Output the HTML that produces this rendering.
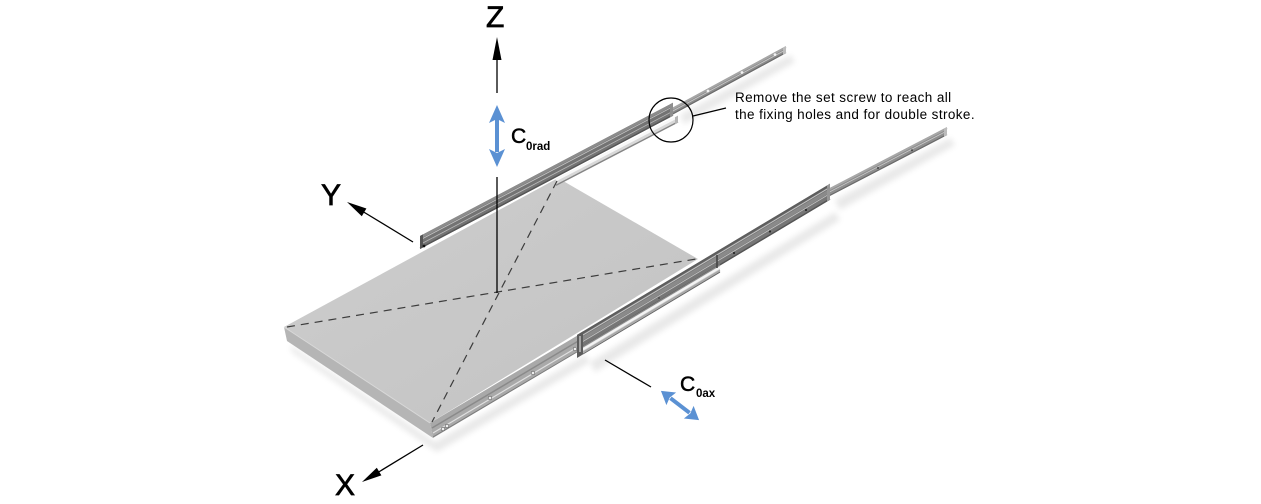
<!DOCTYPE html>
<html>
<head>
<meta charset="utf-8">
<style>
  html,body{margin:0;padding:0;background:#fff;}
  svg{display:block;}
  text{font-family:"Liberation Sans",sans-serif;fill:#000;}
</style>
</head>
<body>
<svg width="1261" height="504" viewBox="0 0 1261 504" xmlns="http://www.w3.org/2000/svg">
  <defs>
    <linearGradient id="plateTop" x1="0" y1="0" x2="1" y2="1">
      <stop offset="0" stop-color="#cdcdcd"/>
      <stop offset="1" stop-color="#c3c3c3"/>
    </linearGradient>
    <filter id="blur" x="-20%" y="-50%" width="140%" height="200%">
      <feGaussianBlur stdDeviation="3"/>
    </filter>
  </defs>

  <!-- soft shadows -->
  <g opacity="0.16" filter="url(#blur)">
    <polygon points="835,200 950,138 955,145 840,210" fill="#777"/>
    <polygon points="590,362 835,212 840,220 595,372" fill="#777"/>
    <polygon points="680,115 790,55 795,62 684,124" fill="#777"/>
    <polygon points="290,345 435,442 585,355 590,362 437,452 292,352" fill="#777"/>
  </g>

  <!-- PLATE side faces -->
  <polygon points="284,327 430,423 433,438 287,341" fill="#b5b5b5"/>
  <polygon points="430,423 580,334 582,349 433,438" fill="#a9a9a9"/>
  <line x1="432" y1="428" x2="580" y2="340" stroke="#8a8a8a" stroke-width="1.5"/>
  <line x1="433" y1="433" x2="581" y2="345" stroke="#e0e0e0" stroke-width="1.2"/>
  <line x1="433" y1="437" x2="582" y2="349" stroke="#7c7c7c" stroke-width="1"/>
  <circle cx="443" cy="429" r="1.8" fill="#eee" stroke="#555" stroke-width="0.6"/>
  <circle cx="447" cy="426" r="1.8" fill="#eee" stroke="#555" stroke-width="0.6"/>
  <circle cx="490" cy="398" r="1.8" fill="#eee" stroke="#555" stroke-width="0.6"/>
  <circle cx="533" cy="373" r="1.8" fill="#eee" stroke="#555" stroke-width="0.6"/>
  <circle cx="575" cy="349" r="1.8" fill="#eee" stroke="#555" stroke-width="0.6"/>

  <!-- PLATE top -->
  <polygon points="284,327 558,178 698,259 430,423" fill="url(#plateTop)"/>
  <line x1="284" y1="327" x2="430" y2="423" stroke="#d8d8d8" stroke-width="1"/>

  <!-- UPPER thin rail: y = 121 - 0.543(x-648) -->
  <polygon points="648,121 786,46.1 786,53.1 648,128" fill="#8c8c8c"/>
  <line x1="648" y1="122" x2="786" y2="47.1" stroke="#a6a6a6" stroke-width="2"/>
  <line x1="648" y1="124.5" x2="786" y2="49.6" stroke="#cccccc" stroke-width="0.8"/>
  <line x1="648" y1="127.4" x2="786" y2="52.5" stroke="#6c6c6c" stroke-width="1.2"/>
  <polygon points="783,47.7 786,46.1 786,53.1 783,54.7" fill="#bcbcbc"/>
  <circle cx="708" cy="91" r="1.4" fill="#f2f2f2"/>
  <circle cx="742" cy="72.5" r="1.4" fill="#f2f2f2"/>
  <circle cx="775" cy="54.6" r="1.4" fill="#f2f2f2"/>

  <!-- UPPER slider: y = 179 - 0.52(x-556) -->
  <polygon points="556,179 678,115.6 678,122.6 556,186" fill="#d8d8d8"/>
  <line x1="556" y1="180.2" x2="678" y2="116.8" stroke="#f8f8f8" stroke-width="2.2"/>
  <line x1="556" y1="185.3" x2="678" y2="121.9" stroke="#858585" stroke-width="1.4"/>
  <polygon points="675,117.2 678,115.6 678,122.6 675,124.2" fill="#b5b5b5"/>

  <!-- UPPER thick rail: y = 236 - 0.527(x-420) -->
  <polygon points="420,236 673,102.7 673,115.7 420,249" fill="#737373"/>
  <polygon points="420,236 673,102.7 673,105.7 420,239" fill="#8c8c8c"/>
  <line x1="420" y1="240" x2="673" y2="106.7" stroke="#c4c4c4" stroke-width="0.8"/>
  <line x1="420" y1="244.5" x2="673" y2="111.2" stroke="#b8b8b8" stroke-width="0.8"/>
  <line x1="420" y1="248.3" x2="673" y2="115" stroke="#555" stroke-width="1.4"/>
  <polygon points="420,236 423,234.4 423,247.4 420,249" fill="#555"/>
  <circle cx="424" cy="246" r="1.4" fill="#111"/>
  <polygon points="670,104.3 673,102.7 673,115.7 670,117.3" fill="#8e8e8e"/>

  <!-- LOWER thin extension: y = 190 - 0.52(x-826) -->
  <polygon points="826,190 947,127.1 947,135.1 826,198" fill="#8e8e8e"/>
  <line x1="826" y1="191" x2="947" y2="128.1" stroke="#a8a8a8" stroke-width="2"/>
  <line x1="826" y1="193.8" x2="947" y2="130.9" stroke="#cacaca" stroke-width="0.8"/>
  <line x1="826" y1="197.4" x2="947" y2="134.5" stroke="#6a6a6a" stroke-width="1.2"/>
  <polygon points="944,128.7 947,127.1 947,135.1 944,136.7" fill="#bcbcbc"/>
  <circle cx="878" cy="168" r="1" fill="#444"/>
  <circle cx="912" cy="150.3" r="1" fill="#444"/>

  <!-- LOWER thick rail: y = 335 - 0.598(x-577) -->
  <polygon points="577,335 830,183.7 830,199.7 577,351" fill="#767676"/>
  <polygon points="577,335 830,183.7 830,186.2 577,337.5" fill="#5e5e5e"/>
  <line x1="577" y1="338.6" x2="830" y2="187.3" stroke="#c8c8c8" stroke-width="0.9"/>
  <polygon points="577,340 830,188.7 830,192.7 577,344" fill="#8a8a8a"/>
  <line x1="577" y1="345" x2="830" y2="193.7" stroke="#c4c4c4" stroke-width="0.8"/>
  <line x1="577" y1="350.3" x2="830" y2="199" stroke="#555" stroke-width="1.4"/>
  <!-- chrome rod -->
  <polygon points="583,346.4 720,264.5 720,272.5 583,354.4" fill="#d0d0d0"/>
  <line x1="583" y1="347" x2="720" y2="265.1" stroke="#858585" stroke-width="1"/>
  <line x1="583" y1="349.3" x2="720" y2="267.4" stroke="#f4f4f4" stroke-width="2.2"/>
  <line x1="583" y1="352.3" x2="720" y2="270.4" stroke="#a8a8a8" stroke-width="1.6"/>
  <line x1="583" y1="354" x2="720" y2="272.1" stroke="#666" stroke-width="1"/>
  <!-- ends / details -->
  <polygon points="577,335 583,331.4 583,354.4 577,358" fill="#5c5c5c"/>
  <line x1="580" y1="336" x2="580" y2="352" stroke="#bdbdbd" stroke-width="1.5"/>
  <line x1="717" y1="268" x2="717" y2="255" stroke="#444" stroke-width="1.6"/>
  <polygon points="827,185.5 830,183.7 830,199.7 827,201.5" fill="#969696"/>
  <circle cx="734" cy="253" r="1.1" fill="#2a2a2a"/>
  <circle cx="770" cy="231.5" r="1.1" fill="#2a2a2a"/>
  <circle cx="806" cy="210" r="1.1" fill="#2a2a2a"/>
  <circle cx="659" cy="298" r="1.1" fill="#555"/>

  <!-- dashed diagonals -->
  <line x1="287" y1="327" x2="696" y2="259" stroke="#3c3c3c" stroke-width="1.2" stroke-dasharray="8 6"/>
  <line x1="557" y1="181" x2="432" y2="422" stroke="#3c3c3c" stroke-width="1.2" stroke-dasharray="8 6"/>

  <!-- Z axis -->
  <line x1="497" y1="58" x2="497" y2="93" stroke="#000" stroke-width="1.3"/>
  <polygon points="497,37 492.5,60 501.5,60" fill="#000"/>
  <line x1="497" y1="177" x2="497" y2="293" stroke="#000" stroke-width="1.3"/>
  <text x="486" y="27" font-size="30" stroke="#000" stroke-width="0.7">Z</text>

  <!-- C0rad blue arrow -->
  <g fill="#5b91d3">
    <rect x="495" y="118" width="4" height="34"/>
    <polygon points="497,105 489,123 497,119 505,123"/>
    <polygon points="497,167 489,149 497,153 505,149"/>
  </g>
  <text x="511" y="143" font-size="21" stroke="#000" stroke-width="0.5">C</text>
  <text x="526" y="150" font-size="11.5" font-weight="bold">0rad</text>

  <!-- Y axis -->
  <line x1="413" y1="242" x2="362" y2="211" stroke="#000" stroke-width="1.3"/>
  <polygon points="347,202 366.4,208.5 361.8,216.3" fill="#000"/>
  <text x="321" y="205" font-size="30" stroke="#000" stroke-width="0.7">Y</text>

  <!-- X axis -->
  <line x1="423" y1="445" x2="377" y2="473" stroke="#000" stroke-width="1.3"/>
  <polygon points="362,482 381.4,475.4 376.8,467.7" fill="#000"/>
  <text x="335" y="495" font-size="30" stroke="#000" stroke-width="0.7">X</text>

  <!-- C0ax -->
  <line x1="605" y1="360" x2="651" y2="387" stroke="#000" stroke-width="1.3"/>
  <g transform="translate(680,405.5) rotate(37.4)" fill="#5b91d3">
    <rect x="-12" y="-2" width="24" height="4"/>
    <polygon points="-24,0 -11,-8 -13,0 -11,8"/>
    <polygon points="24,0 11,-8 13,0 11,8"/>
  </g>
  <text x="680" y="391" font-size="21" stroke="#000" stroke-width="0.5">C</text>
  <text x="696" y="397" font-size="11.5" font-weight="bold">0ax</text>

  <!-- callout -->
  <circle cx="671" cy="120" r="22" fill="none" stroke="#000" stroke-width="1.2"/>
  <line x1="693" y1="116" x2="726" y2="108" stroke="#000" stroke-width="1.2"/>
  <text x="735" y="102" font-size="13.5" letter-spacing="0.4">Remove the set screw to reach all</text>
  <text x="735" y="119" font-size="13.5" letter-spacing="0.4">the fixing holes and for double stroke.</text>
</svg>
</body>
</html>
